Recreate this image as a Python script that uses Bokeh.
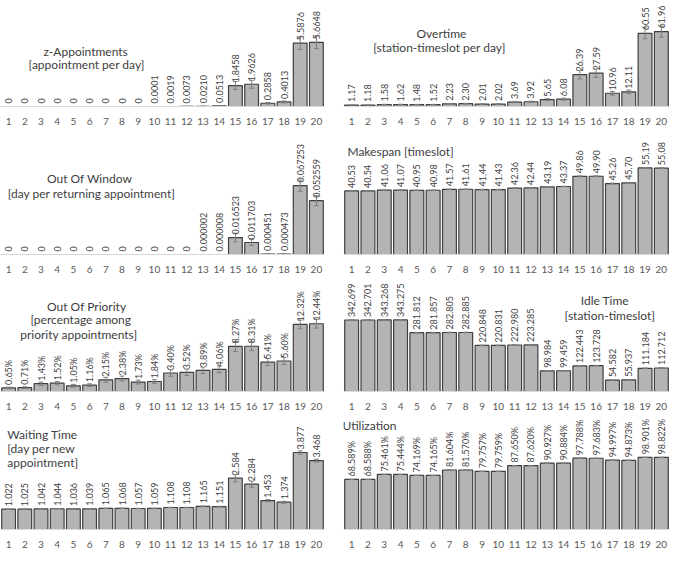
import numpy as np
from bokeh.plotting import figure
from bokeh.layouts import gridplot
from bokeh.models import Range1d, FixedTicker, Label, ColumnDataSource
from bokeh.embed import file_html
from bokeh.resources import INLINE
from bokeh.core.properties import value

# ---------------- data ----------------
tick_labels = [str(i) for i in range(1, 21)]

z_app = [0, 0, 0, 0, 0, 0, 0, 0, 0, 0.0001, 0.0019, 0.0073, 0.0210, 0.0513,
         1.8458, 1.9626, 0.2858, 0.4013, 5.5876, 5.6648]
z_err = [0, 0, 0, 0, 0, 0, 0, 0, 0, 0.0005, 0.002, 0.004, 0.008, 0.02,
         0.35, 0.35, 0.07, 0.09, 0.55, 0.55]

overtime = [1.17, 1.18, 1.58, 1.62, 1.48, 1.52, 2.23, 2.30, 2.01, 2.02, 3.69, 3.92,
            5.65, 6.08, 26.39, 27.59, 10.96, 12.11, 60.55, 61.96]
overtime_err = [0.2, 0.2, 0.25, 0.25, 0.25, 0.25, 0.3, 0.3, 0.3, 0.3, 0.5, 0.5,
                0.8, 0.8, 3.5, 3.5, 1.5, 1.5, 4.5, 4.5]

out_window = [0, 0, 0, 0, 0, 0, 0, 0, 0, 0, 0, 0, 0.000002, 0.000008, 0.016523,
              0.011703, 0.000451, 0.000473, 0.067253, 0.052559]
out_window_err = [0, 0, 0, 0, 0, 0, 0, 0, 0, 0, 0, 0, 0.000002, 0.000005, 0.0043,
                  0.003, 0.0004, 0.0004, 0.0055, 0.005]

makespan = [40.53, 40.54, 41.06, 41.07, 40.95, 40.98, 41.57, 41.61, 41.44, 41.43,
            42.36, 42.44, 43.19, 43.37, 49.86, 49.90, 45.26, 45.70, 55.19, 55.08]
makespan_err = [0.15] * 14 + [0.3, 0.3, 0.3, 0.3, 0.3, 0.3]

priority = [0.65, 0.71, 1.43, 1.52, 1.05, 1.16, 2.15, 2.38, 1.73, 1.84, 3.40, 3.52,
            3.89, 4.06, 8.27, 8.31, 5.41, 5.60, 12.32, 12.44]
priority_err = [0.15, 0.15, 0.3, 0.3, 0.25, 0.25, 0.45, 0.45, 0.35, 0.35, 0.6, 0.6,
                0.6, 0.6, 0.9, 0.8, 0.65, 0.65, 0.8, 0.8]

idle = [342.699, 342.701, 343.268, 343.275, 281.812, 281.857, 282.805, 282.885,
        220.848, 220.831, 222.980, 223.285, 98.984, 99.459, 122.443, 123.728,
        54.582, 55.937, 111.184, 112.712]
idle_err = [1.5] * 20

waiting = [1.022, 1.025, 1.042, 1.044, 1.036, 1.039, 1.065, 1.068, 1.057, 1.059,
           1.108, 1.108, 1.165, 1.151, 2.584, 2.284, 1.453, 1.374, 3.877, 3.468]
waiting_err = [0.01] * 12 + [0.02, 0.02, 0.18, 0.15, 0.05, 0.05, 0.08, 0.07]

utilization = [68.589, 68.588, 75.461, 75.444, 74.169, 74.165, 81.604, 81.570,
               79.757, 79.759, 87.650, 87.620, 90.927, 90.884, 97.788, 97.683,
               94.997, 94.873, 98.901, 98.822]
utilization_err = [0.2] * 20

# ---------------- style ----------------
FONT = "Lato"
BAR_FILL = "#b4b4b4"
BAR_LINE = "#3f3f3f"
ERR_COL = "#7f7f7f"
TXT = "#404040"

# reference geometry (pixel coordinates of the original picture)
COLS = {0: dict(left=0, right=331, frame_w=324, bl=0, br=10),
        1: dict(left=350, right=683, frame_w=326, bl=9, br=0)}
ROWS = {0: dict(base=109, top=0, frame_h=106),
        1: dict(base=261, top=130, frame_h=127),
        2: dict(base=401, top=281, frame_h=116),
        3: dict(base=542, top=422, frame_h=117)}


def fmt(v, kind):
    if kind == "z":
        return "0" if v == 0 else f"{v:.4f}"
    if kind == "w":
        return "0" if v == 0 else f"{v:.6f}"
    if kind == "2":
        return f"{v:.2f}"
    if kind == "2p":
        return f"{v:.2f}%"
    if kind == "3":
        return f"{v:.3f}"
    if kind == "3p":
        return f"{v:.3f}%"
    return str(v)


def make_panel(vals, errs, kind, y_end, row, col, titles):
    c, r = COLS[col], ROWS[row]
    xs = list(range(1, 21))
    p = figure(frame_width=c["frame_w"], frame_height=r["frame_h"],
               x_range=Range1d(0.5, 20.5), y_range=Range1d(0, y_end),
               output_backend="svg", toolbar_location=None, y_axis_location=None,
               min_border_left=c["bl"], min_border_right=c["br"],
               min_border_top=0, min_border_bottom=0)
    p.outline_line_color = None
    p.xgrid.visible = False
    p.ygrid.visible = False
    p.background_fill_color = "white"

    src = ColumnDataSource(dict(x=xs, top=vals,
                                lab=[fmt(v, kind) for v in vals]))
    p.vbar(x="x", top="top", bottom=0, width=0.85, fill_color=BAR_FILL,
           line_color=BAR_LINE, line_width=1.2, source=src)

    ex = [x for x, e in zip(xs, errs) if e > 0]
    ev = [v for v, e in zip(vals, errs) if e > 0]
    ee = [e for e in errs if e > 0]
    esrc = ColumnDataSource(dict(
        x=ex, lo=[v - e for v, e in zip(ev, ee)], hi=[v + e for v, e in zip(ev, ee)],
        xl=[x - 0.15 for x in ex], xr=[x + 0.15 for x in ex]))
    p.segment(x0="x", y0="lo", x1="x", y1="hi", line_color=ERR_COL, line_width=1, source=esrc)
    p.segment(x0="xl", y0="hi", x1="xr", y1="hi", line_color=ERR_COL, line_width=1, source=esrc)
    p.segment(x0="xl", y0="lo", x1="xr", y1="lo", line_color=ERR_COL, line_width=1, source=esrc)

    p.text(x="x", y="top", text="lab", angle=np.pi / 2, text_align="left",
           text_baseline="middle", y_offset=-3, text_font=value(FONT),
           text_font_size="9px", text_color=TXT, source=src)

    ax = p.xaxis[0]
    ax.ticker = FixedTicker(ticks=xs)
    ax.major_label_overrides = {i: tick_labels[i - 1] for i in xs}
    ax.axis_line_color = "#d9d9d9"
    ax.axis_line_width = 1
    ax.major_tick_line_color = None
    ax.minor_tick_line_color = None
    ax.major_label_standoff = 5
    ax.major_label_text_font = FONT
    ax.major_label_text_font_size = "10px"
    ax.major_label_text_color = "#595959"

    for text, xr, yr, align in titles:
        xd = 0.5 + (xr - c["left"]) / (c["right"] - c["left"]) * 20
        yd = (r["base"] - yr) / (r["base"] - r["top"]) * y_end
        p.add_layout(Label(x=xd, y=yd, text=text, text_align=align,
                           text_baseline="middle", text_font=FONT,
                           text_font_size="12px", text_color=TXT))
    return p


p1 = make_panel(z_app, z_err, "z", 9.36, 0, 0,
                [("z-Appointments", 87, 52, "center"),
                 ("[appointment per day]", 88, 66, "center")])
p2 = make_panel(overtime, overtime_err, "2", 87.7, 0, 1,
                [("Overtime", 450, 34, "center"),
                 ("[station-timeslot per day]", 448, 48, "center")])
p3 = make_panel(out_window, out_window_err, "w", 0.124, 1, 0,
                [("Out Of Window", 91, 183, "center"),
                 ("[day per returning appointment]", 93, 198, "center")])
p4 = make_panel(makespan, makespan_err, "2", 81, 1, 1,
                [("Makespan [timeslot]", 354, 155, "left")])
p5 = make_panel(priority, priority_err, "2p", 21.3, 2, 0,
                [("Out Of Priority", 88, 313, "center"),
                 ("[percentage among", 82, 327, "center"),
                 ("priority appointments]", 80, 342, "center")])
p6 = make_panel(idle, idle_err, "3", 556, 2, 1,
                [("Idle Time", 617, 307, "center"),
                 ("[station-timeslot]", 622, 322, "center")])
p7 = make_panel(waiting, waiting_err, "3", 5.89, 3, 0,
                [("Waiting Time", 7, 445, "left"),
                 ("[day per new", 7, 459, "left"),
                 ("appointment]", 7, 473, "left")])
p8 = make_panel(utilization, utilization_err, "3p", 160.4, 3, 1,
                [("Utilization", 349, 435, "left")])

grid = gridplot([[p1, p2], [p3, p4], [p5, p6], [p7, p8]],
                toolbar_location=None)

open("out.html", "w").write(file_html(grid, INLINE))
